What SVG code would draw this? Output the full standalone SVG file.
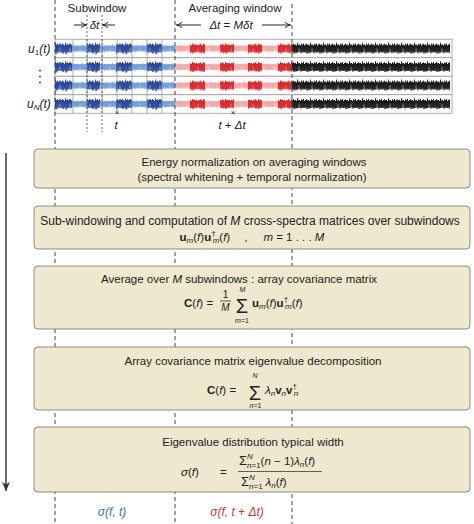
<svg xmlns="http://www.w3.org/2000/svg" xmlns:xlink="http://www.w3.org/1999/xlink" width="474" height="524" viewBox="0 0 474 524">
<style>
.t{font-family:"Liberation Sans",Arial,sans-serif;font-size:11.5px;fill:#222}
.i{font-style:italic}
.b{font-weight:bold}
.s{font-size:8px}
.box{fill:#eee8cf;stroke:#8c8c84;stroke-width:1}
.dash{stroke:#444;stroke-width:1;stroke-dasharray:4 3;fill:none}
.dot{stroke:#555;stroke-width:0.9;stroke-dasharray:2 2;fill:none}
.grid{stroke:#8a8a8a;stroke-width:0.7}
.arr{stroke:#222;stroke-width:1;fill:none}
.w{fill:none;stroke-width:0.9}
</style>
<defs>
<marker id="ah" markerWidth="8" markerHeight="8" refX="6" refY="3" orient="auto" markerUnits="userSpaceOnUse"><path d="M0.5,0.3 Q3,2.3 6,3 Q3,3.7 0.5,5.7" fill="none" stroke="#222" stroke-width="1"/></marker>
<marker id="big" markerWidth="10" markerHeight="12" refX="9" refY="4" orient="auto" markerUnits="userSpaceOnUse"><path d="M0,0 L9,4 L0,8 L2.5,4 Z" fill="#333"/></marker>
<pattern id="pB" patternUnits="userSpaceOnUse" x="0" y="-7" width="10" height="14"><path class="w" stroke="#1d3f9a" transform="translate(0,7)" d="M0,0 L0.5,-4.5 L1,4 L1.5,-3.5 L2,3.5 L2.5,-5 L3,5 L3.5,-4 L4,4 L4.5,-3 L5,3 L5.5,-5.5 L6,5.5 L6.5,-4 L7,4.5 L7.5,-4.5 L8,3 L8.5,-3.5 L9,4 L9.5,-4.5 L10,0"/></pattern>
<pattern id="pb" patternUnits="userSpaceOnUse" x="0" y="-7" width="10" height="14"><path class="w" stroke="#6799de" transform="translate(0,7)" d="M0,0 L0.5,-3 L1,3 L1.5,-2.5 L2,2.5 L2.5,-3.5 L3,3 L3.5,-2.5 L4,2 L4.5,-3 L5,3.5 L5.5,-2.5 L6,2.5 L6.5,-3.2 L7,3 L7.5,-2.5 L8,2.5 L8.5,-3 L9,3 L9.5,-2.5 L10,0"/></pattern>
<pattern id="pR" patternUnits="userSpaceOnUse" x="0" y="-7" width="11" height="14"><path class="w" stroke="#dc2323" transform="translate(0,7)" d="M0,0 L0.5,-4 L1,4 L1.5,-3.5 L2,3 L2.5,-4.5 L3,4.5 L3.5,-3.5 L4,4 L4.5,-3 L5,3.5 L5.5,-5 L6,5 L6.5,-4 L7,4 L7.5,-4 L8,3 L8.5,-3.5 L9,4 L9.5,-4 L10,3.5 L10.5,-3 L11,0"/></pattern>
<pattern id="pr" patternUnits="userSpaceOnUse" x="0" y="-7" width="11" height="14"><path class="w" stroke="#f4a3a3" transform="translate(0,7)" d="M0,0 L0.5,-3 L1,3 L1.5,-2.5 L2,2.5 L2.5,-3.5 L3,3 L3.5,-2.5 L4,2 L4.5,-3 L5,3.5 L5.5,-2.5 L6,2.5 L6.5,-3.2 L7,3 L7.5,-2.5 L8,2.5 L8.5,-3 L9,3 L9.5,-2.5 L10,2.5 L10.5,-3 L11,0"/></pattern>
<pattern id="pK" patternUnits="userSpaceOnUse" x="0" y="-7" width="13" height="14"><path class="w" stroke="#111" transform="translate(0,7)" d="M0,0 L0.5,-4 L1,3.5 L1.5,-3 L2,4.5 L2.5,-4.5 L3,3 L3.5,-3.5 L4,4 L4.5,-5 L5,3.5 L5.5,-3 L6,4 L6.5,-4 L7,3 L7.5,-4.5 L8,5 L8.5,-3.5 L9,3.5 L9.5,-4 L10,4.5 L10.5,-3 L11,4 L11.5,-5.5 L12,4 L12.5,-3.5 L13,0"/></pattern>
<g id="row">
<rect x="55" y="-9.25" width="397" height="18.5" fill="#fff" stroke="#999" stroke-width="0.8"/>
<rect x="55" y="-7" width="17" height="14" fill="url(#pB)"/>
<rect x="72" y="-7" width="15" height="14" fill="url(#pb)"/>
<rect x="87" y="-7" width="13" height="14" fill="url(#pB)"/>
<rect x="100" y="-7" width="16" height="14" fill="url(#pb)"/>
<rect x="116" y="-7" width="16" height="14" fill="url(#pB)"/>
<rect x="132" y="-7" width="15" height="14" fill="url(#pb)"/>
<rect x="147" y="-7" width="15" height="14" fill="url(#pB)"/>
<rect x="162" y="-7" width="13" height="14" fill="url(#pb)"/>
<rect x="175" y="-7" width="117" height="14" fill="url(#pr)"/>
<rect x="190" y="-7" width="15" height="14" fill="url(#pR)"/>
<rect x="220" y="-7" width="14" height="14" fill="url(#pR)"/>
<rect x="248" y="-7" width="14" height="14" fill="url(#pR)"/>
<rect x="278" y="-7" width="14" height="14" fill="url(#pR)"/>
<rect x="292" y="-7" width="158" height="14" fill="url(#pK)"/>
<path class="grid" d="M73,-9.25V9.25M87,-9.25V9.25M102,-9.25V9.25M117,-9.25V9.25M132,-9.25V9.25M147,-9.25V9.25M162,-9.25V9.25"/>
</g>
</defs>
<rect width="474" height="524" fill="#fff"/>

<g id="signals">
<use xlink:href="#row" transform="translate(0,48.5)"/>
<use xlink:href="#row" transform="translate(0,67)"/>
<use xlink:href="#row" transform="translate(0,85.5)"/>
<use xlink:href="#row" transform="translate(0,104)"/>
<text class="t i" x="28" y="53" style="font-size:12px">u<tspan class="s" font-style="normal" dy="2">1</tspan><tspan dy="-2">(t)</tspan></text>
<text class="t i" x="27" y="108" style="font-size:12px">u<tspan class="s" dy="2">N</tspan><tspan dy="-2">(t)</tspan></text>
<circle cx="40" cy="70.5" r="0.9" fill="#333"/>
<circle cx="40" cy="76.5" r="0.9" fill="#333"/>
<circle cx="40" cy="82.5" r="0.9" fill="#333"/>
<text class="t" x="97" y="12" text-anchor="middle">Subwindow</text>
<text class="t" x="235" y="12" text-anchor="middle">Averaging window</text>
<text class="t i" x="94.5" y="29" text-anchor="middle">δt</text>
<text class="t i" x="231" y="29" text-anchor="middle">Δt <tspan font-style="normal">=</tspan> Mδt</text>
<text class="t" x="117" y="115" style="font-size:8px" text-anchor="middle">×</text>
<text class="t" x="233" y="115" style="font-size:8px" text-anchor="middle">×</text>
<text class="t i" x="116" y="129" text-anchor="middle">t</text>
<text class="t i" x="232" y="129" text-anchor="middle">t <tspan font-style="normal">+</tspan> Δt</text>
</g>

<g id="connectors">
<path class="dash" d="M55,0V524M175,0V524M292,4V524"/>
<path class="dot" d="M87,15V132M102,15V132"/>
<line class="arr" x1="74" y1="25" x2="86.5" y2="25" marker-end="url(#ah)"/>
<line class="arr" x1="115" y1="25" x2="102.5" y2="25" marker-end="url(#ah)"/>
<line class="arr" x1="201" y1="25" x2="176.5" y2="25" marker-end="url(#ah)"/>
<line class="arr" x1="262" y1="25" x2="290.5" y2="25" marker-end="url(#ah)"/>
<line x1="6" y1="153" x2="6" y2="491" stroke="#444" stroke-width="1.6" marker-end="url(#big)"/>
</g>

<g id="n1">
<rect class="box" x="34" y="149" width="436" height="39" rx="4"/>
<text class="t" x="254" y="165.5" text-anchor="middle">Energy normalization on averaging windows</text>
<text class="t" x="252" y="180.5" text-anchor="middle">(spectral whitening + temporal normalization)</text>
</g>

<g id="n2">
<rect class="box" x="34" y="206" width="436" height="43" rx="4"/>
<text class="t" x="250" y="224.5" text-anchor="middle" style="font-size:12px">Sub-windowing and computation of <tspan class="i">M</tspan> cross-spectra matrices over subwindows</text>
<text class="t" x="252" y="241" text-anchor="middle"><tspan class="b">u</tspan><tspan class="s i" dy="2">m</tspan><tspan dy="-2">(</tspan><tspan class="i">f</tspan>)<tspan class="b">u</tspan><tspan class="s" dy="-5">†</tspan><tspan class="s i" dx="-3" dy="7">m</tspan><tspan dy="-2">(</tspan><tspan class="i">f</tspan>)<tspan dx="14">,</tspan><tspan class="i" dx="16">m</tspan> = 1 . . . <tspan class="i">M</tspan></text>
</g>

<g id="n3">
<rect class="box" x="34" y="266" width="436" height="63" rx="4"/>
<text class="t" x="239" y="283" text-anchor="middle">Average over <tspan class="i">M</tspan> subwindows : array covariance matrix</text>
<text class="t" x="184" y="307"><tspan class="b">C</tspan>(<tspan class="i">f</tspan>) =</text>
<text class="t" x="225.5" y="298" style="font-size:10px" text-anchor="middle">1</text>
<line x1="220" y1="301" x2="231" y2="301" stroke="#222" stroke-width="0.7"/>
<text class="t i" x="225.5" y="311" style="font-size:10px" text-anchor="middle">M</text>
<text class="t" x="242" y="312.5" style="font-size:20px" text-anchor="middle">Σ</text>
<text class="t i" x="242.5" y="292" style="font-size:7px" text-anchor="middle">M</text>
<text class="t" x="242" y="322.5" style="font-size:7px" text-anchor="middle"><tspan class="i">m</tspan>=1</text>
<text class="t" x="252" y="307"><tspan class="b">u</tspan><tspan class="s i" dy="2">m</tspan><tspan dy="-2">(</tspan><tspan class="i">f</tspan>)<tspan class="b">u</tspan><tspan class="s" dy="-5">†</tspan><tspan class="s i" dx="-3" dy="7">m</tspan><tspan dy="-2">(</tspan><tspan class="i">f</tspan>)</text>
</g>

<g id="n4">
<rect class="box" x="34" y="347" width="436" height="63" rx="4"/>
<text class="t" x="253" y="365" text-anchor="middle">Array covariance matrix eigenvalue decomposition</text>
<text class="t" x="207" y="394"><tspan class="b">C</tspan>(<tspan class="i">f</tspan>) =</text>
<text class="t" x="255" y="399.5" style="font-size:20px" text-anchor="middle">Σ</text>
<text class="t i" x="255" y="378" style="font-size:7px" text-anchor="middle">N</text>
<text class="t" x="255.5" y="408" style="font-size:7px" text-anchor="middle"><tspan class="i">n</tspan>=1</text>
<text class="t" x="265" y="394"><tspan class="i">λ</tspan><tspan class="s i" dy="2">n</tspan><tspan class="b" dy="-2">v</tspan><tspan class="s i" dy="2">n</tspan><tspan class="b" dy="-2">v</tspan><tspan class="s" dy="-5">†</tspan><tspan class="s i" dx="-3" dy="7">n</tspan></text>
</g>

<g id="n5">
<rect class="box" x="34" y="427" width="436" height="65" rx="4"/>
<text class="t" x="253" y="446" text-anchor="middle">Eigenvalue distribution typical width</text>
<text class="t" x="181" y="476"><tspan class="i">σ</tspan>(<tspan class="i">f</tspan>)</text>
<text class="t" x="220" y="476">=</text>
<text class="t" x="239" y="465"><tspan style="font-size:13px">Σ</tspan><tspan class="s i" dy="-6">N</tspan><tspan class="s" dx="-5.8" dy="9"><tspan class="i">n</tspan>=1</tspan><tspan dy="-3">(</tspan><tspan class="i">n</tspan> − 1)<tspan class="i">λ</tspan><tspan class="s i" dy="2">n</tspan><tspan dy="-2">(</tspan><tspan class="i">f</tspan>)</text>
<line x1="238" y1="471.5" x2="322" y2="471.5" stroke="#222" stroke-width="0.7"/>
<text class="t" x="241" y="486"><tspan style="font-size:13px">Σ</tspan><tspan class="s i" dy="-6">N</tspan><tspan class="s" dx="-5.8" dy="9"><tspan class="i">n</tspan>=1</tspan><tspan class="i" dx="3" dy="-3">λ</tspan><tspan class="s i" dy="2">n</tspan><tspan dy="-2">(</tspan><tspan class="i">f</tspan>)</text>
</g>

<g id="outputs">
<text class="t i" x="112" y="516" text-anchor="middle" style="font-size:12px;fill:#3f6db5">σ(f, t)</text>
<text class="t i" x="237" y="516" text-anchor="middle" style="font-size:12px;fill:#c0392b">σ(f, t <tspan font-style="normal">+</tspan> Δt)</text>
</g>
</svg>
